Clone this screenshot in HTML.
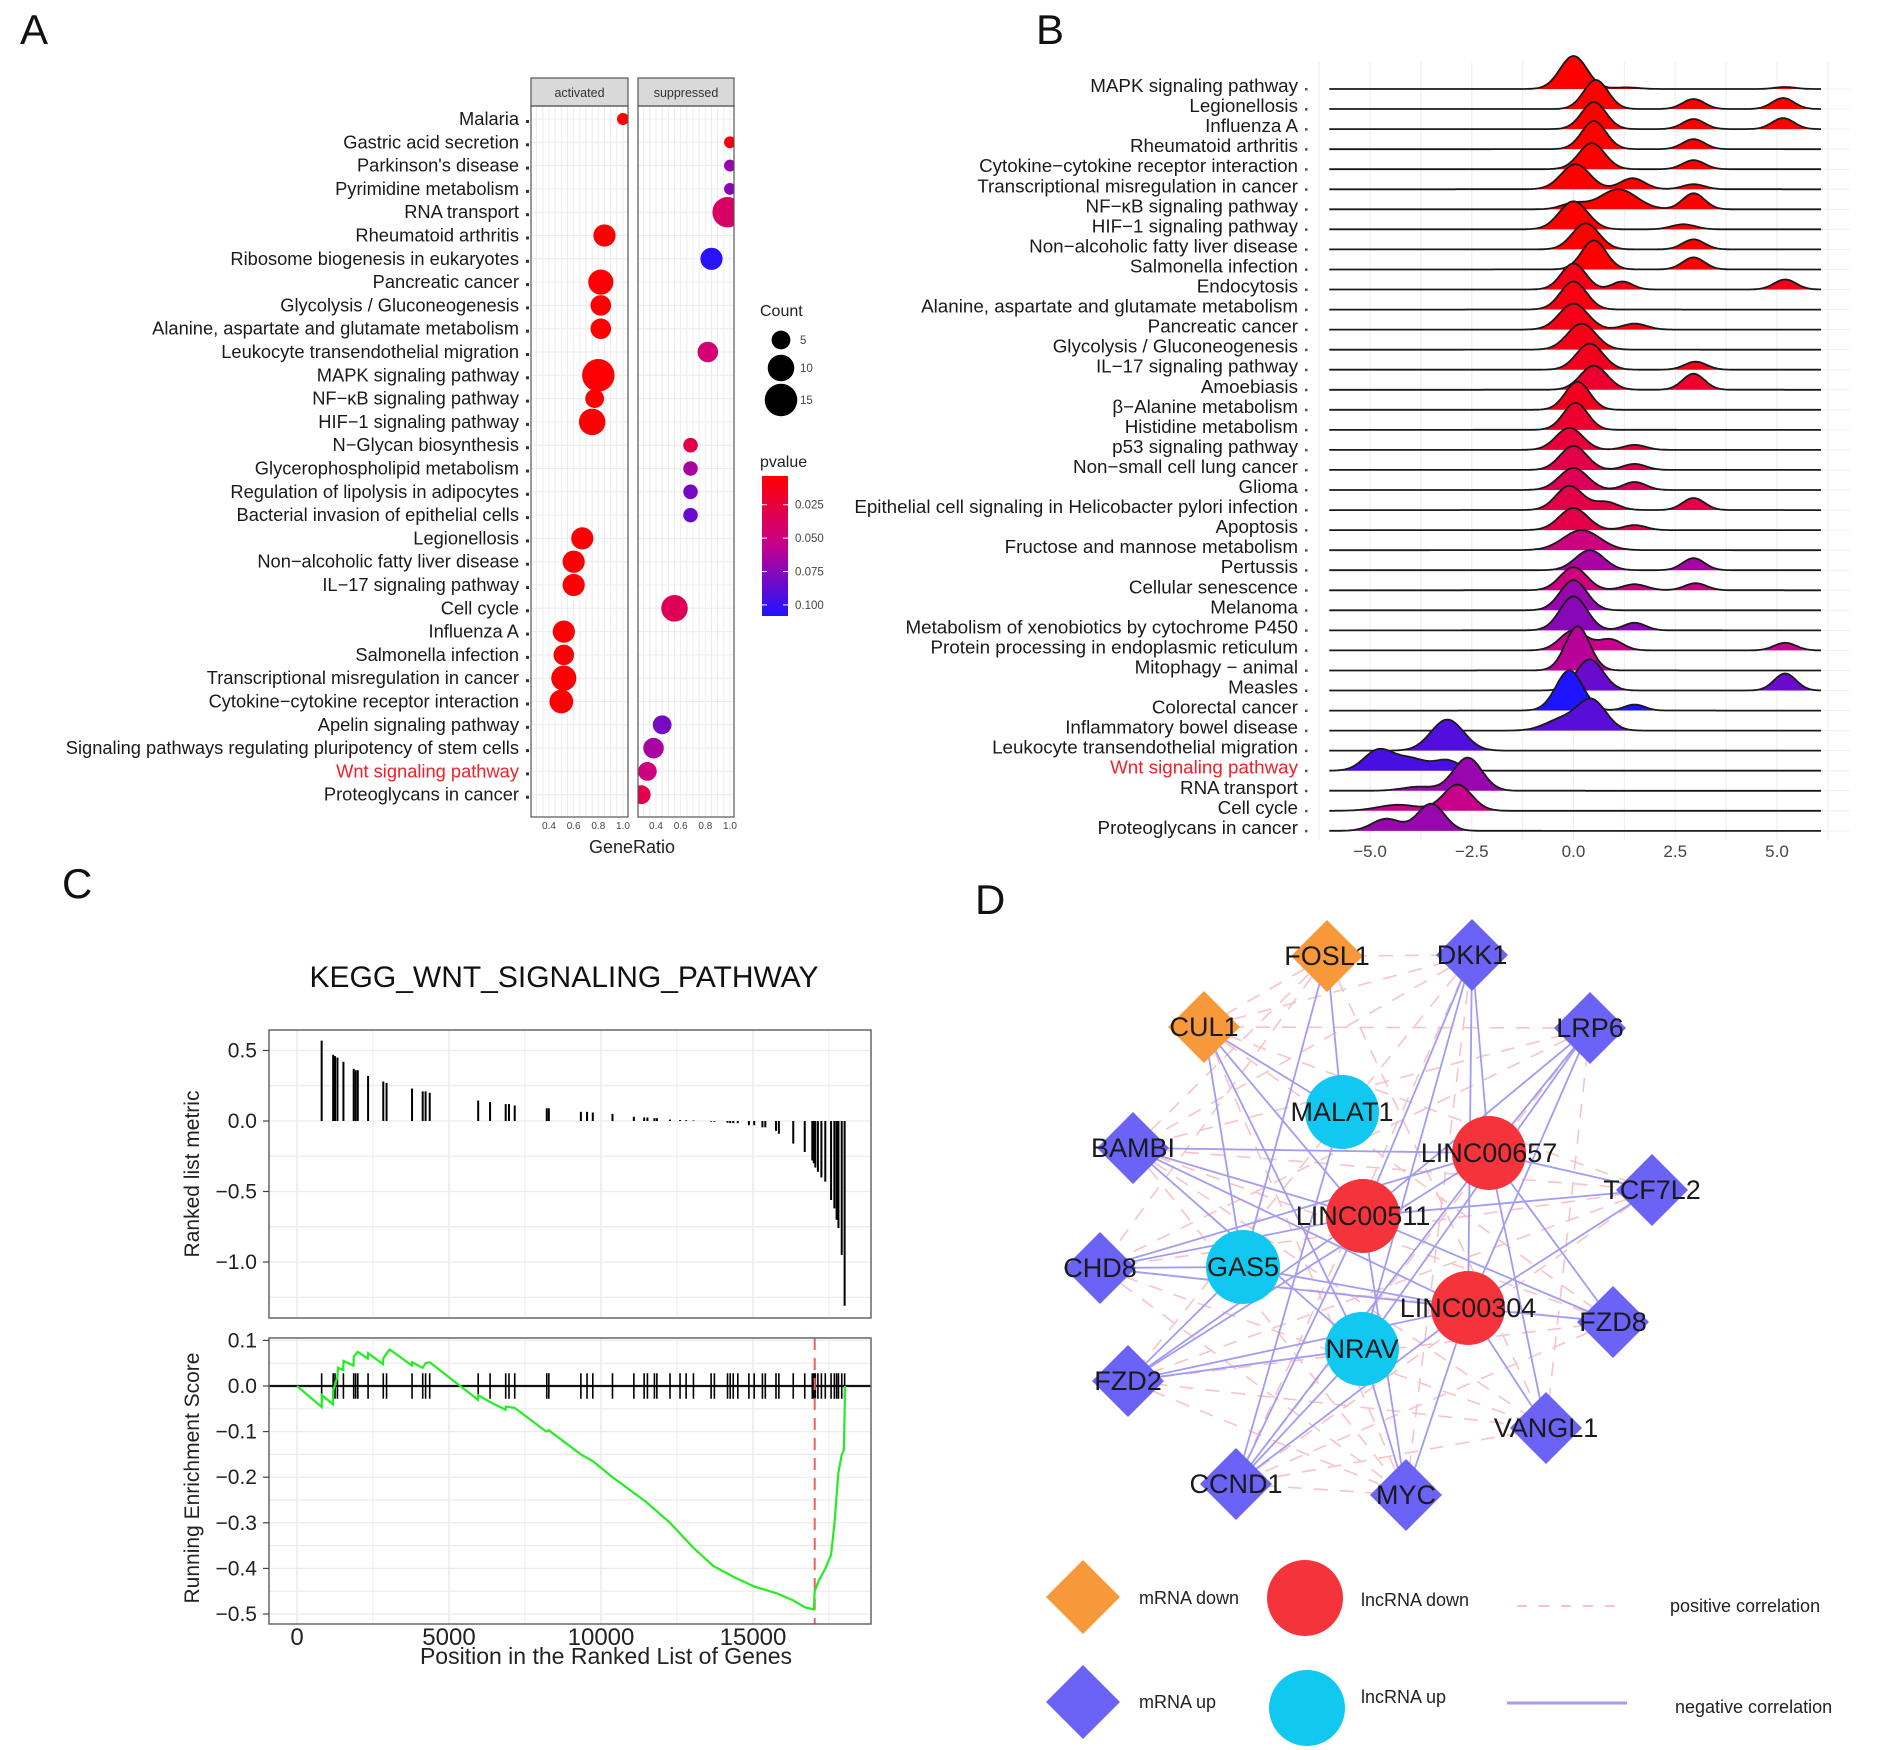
<!DOCTYPE html>
<html><head><meta charset="utf-8"><style>
html,body{margin:0;padding:0;background:#fff;}
svg{display:block;font-family:"Liberation Sans",Arial,sans-serif;}
</style></head><body>
<svg id="fig" xmlns="http://www.w3.org/2000/svg" width="1890" height="1750" viewBox="0 0 1890 1750">
<rect x="0" y="0" width="1890" height="1750" fill="#fff"/>
<text x="20" y="44" font-size="42" fill="#111">A</text>
<text x="1036" y="44" font-size="42" fill="#111">B</text>
<text x="62" y="898" font-size="42" fill="#111">C</text>
<text x="975" y="914" font-size="42" fill="#111">D</text>
<g id="pa"></g>
<g id="pb"></g>
<g id="pc"></g>
<g id="pd"></g>
</svg>
<script>
// ===== Panel A data =====
const aTerms = ["Malaria","Gastric acid secretion","Parkinson's disease","Pyrimidine metabolism","RNA transport","Rheumatoid arthritis","Ribosome biogenesis in eukaryotes","Pancreatic cancer","Glycolysis / Gluconeogenesis","Alanine, aspartate and glutamate metabolism","Leukocyte transendothelial migration","MAPK signaling pathway","NF\u2212\u03BAB signaling pathway","HIF\u22121 signaling pathway","N\u2212Glycan biosynthesis","Glycerophospholipid metabolism","Regulation of lipolysis in adipocytes","Bacterial invasion of epithelial cells","Legionellosis","Non\u2212alcoholic fatty liver disease","IL\u221217 signaling pathway","Cell cycle","Influenza A","Salmonella infection","Transcriptional misregulation in cancer","Cytokine\u2212cytokine receptor interaction","Apelin signaling pathway","Signaling pathways regulating pluripotency of stem cells","Wnt signaling pathway","Proteoglycans in cancer"];
const aGroup = ["act","sup","sup","sup","sup","act","sup","act","act","act","sup","act","act","act","sup","sup","sup","sup","act","act","act","sup","act","act","act","act","sup","sup","sup","sup"];
const aRatio = [1.0,1.0,1.0,1.0,0.98,0.85,0.85,0.82,0.82,0.82,0.82,0.80,0.77,0.75,0.68,0.68,0.68,0.68,0.67,0.60,0.60,0.55,0.52,0.52,0.52,0.50,0.45,0.38,0.33,0.28];
const aCount = [2,2,2,2,13,7,7,9,6,6,6,15,5,10,3,3,3,3,7,7,7,10,7,6,9,8,5,6,5,5];
const aPval = [0.005,0.01,0.07,0.075,0.04,0.005,0.105,0.005,0.005,0.005,0.045,0.005,0.005,0.005,0.03,0.065,0.08,0.085,0.005,0.005,0.005,0.035,0.005,0.005,0.005,0.005,0.08,0.065,0.05,0.03];
const aTicks = [0.4,0.6,0.8,1.0];
const legCounts = [5,10,15];
const legPvals = [0.025,0.050,0.075,0.100];

// ===== Panel B data =====
const bTerms = ["MAPK signaling pathway","Legionellosis","Influenza A","Rheumatoid arthritis","Cytokine\u2212cytokine receptor interaction","Transcriptional misregulation in cancer","NF\u2212\u03BAB signaling pathway","HIF\u22121 signaling pathway","Non\u2212alcoholic fatty liver disease","Salmonella infection","Endocytosis","Alanine, aspartate and glutamate metabolism","Pancreatic cancer","Glycolysis / Gluconeogenesis","IL\u221217 signaling pathway","Amoebiasis","\u03B2\u2212Alanine metabolism","Histidine metabolism","p53 signaling pathway","Non\u2212small cell lung cancer","Glioma","Epithelial cell signaling in Helicobacter pylori infection","Apoptosis","Fructose and mannose metabolism","Pertussis","Cellular senescence","Melanoma","Metabolism of xenobiotics by cytochrome P450","Protein processing in endoplasmic reticulum","Mitophagy \u2212 animal","Measles","Colorectal cancer","Inflammatory bowel disease","Leukocyte transendothelial migration","Wnt signaling pathway","RNA transport","Cell cycle","Proteoglycans in cancer"];
const bCenters = [[0,1.3,5.2],[0.55,2.95,5.15],[0.5,2.95,5.15],[0.5,2.95],[0.45,2.95],[0.05,1.45,2.95],[0,1.1,2.95],[0,2.7],[0.3,2.95],[0.5,2.95],[0,1.2,5.2],[0],[0,1.5],[0.2],[0.4,3.0],[0.5,2.95],[0.1],[0.05],[-0.1,1.5],[0,1.5],[0,1.5],[-0.1,0.8,2.95],[0,1.5],[0.2],[0.4,2.95],[0,1.5,3.0],[0],[0,1.5],[0,0.9,5.2],[0.1],[0.4,5.2],[-0.1,1.5],[0.45,-0.3],[-3.1],[-4.8,-4.0,-3.1],[-2.6,-3.8],[-2.85,-4.3],[-3.5,-4.6]];
const bHeights = [[1.65,0.08,0.1],[1.45,0.5,0.55],[1.35,0.5,0.55],[1.4,0.5],[1.3,0.45],[1.25,0.55,0.25],[0.3,1.0,0.8],[1.4,0.25],[1.3,0.5],[1.45,0.6],[1.3,0.4,0.5],[1.4],[1.3,0.3],[1.3],[1.3,0.4],[1.2,0.8],[1.4],[1.35],[1.1,0.25],[1.2,0.3],[1.1,0.4],[1.2,0.4,0.6],[1.1,0.25],[1.0],[1.0,0.6],[1.15,0.3,0.35],[1.5],[1.7,0.38],[1.0,0.55,0.38],[2.2],[1.55,0.85],[2.0,0.3],[1.5,0.55],[1.55],[1.0,0.6,0.5],[1.65,0.2],[1.3,0.3],[1.35,0.6]];
const bWidths = [[0.33,0.3,0.25],[0.3,0.27,0.27],[0.3,0.27,0.27],[0.3,0.27],[0.32,0.27],[0.35,0.3,0.27],[0.3,0.45,0.27],[0.35,0.3],[0.33,0.27],[0.3,0.27],[0.3,0.25,0.27],[0.32],[0.35,0.3],[0.35],[0.33,0.27],[0.33,0.27],[0.3],[0.3],[0.33,0.28],[0.33,0.28],[0.35,0.28],[0.33,0.3,0.27],[0.35,0.28],[0.45],[0.35,0.27],[0.33,0.3,0.27],[0.33],[0.33,0.27],[0.33,0.3,0.27],[0.3],[0.33,0.27],[0.33,0.25],[0.35,0.4],[0.4],[0.35,0.4,0.3],[0.35,0.4],[0.35,0.5],[0.33,0.35]];
const bPvals = [0.002,0.002,0.002,0.002,0.002,0.002,0.002,0.002,0.002,0.002,0.012,0.01,0.012,0.012,0.015,0.02,0.015,0.02,0.025,0.03,0.035,0.03,0.03,0.05,0.065,0.05,0.07,0.075,0.055,0.06,0.085,0.108,0.09,0.092,0.095,0.07,0.055,0.07];
const bTicks = [-5.0,-2.5,0.0,2.5,5.0];

// ===== Panel C data =====
const hitGenes = [811,1190,1250,1330,1527,1865,1930,2000,2338,2838,2946,3784,4135,4230,4365,5960,6351,6865,6973,7162,8216,8284,9338,9541,9730,10378,11081,11419,11527,11757,11838,12270,12600,12800,13041,13622,13730,14162,14250,14350,14500,14865,15040,15310,15405,15756,15851,16324,16702,16950,17000,17050,17135,17250,17378,17568,17676,17750,17811,17919,18014];
const rankMetric = [0.57,0.47,0.46,0.45,0.42,0.37,0.36,0.36,0.32,0.28,0.27,0.23,0.21,0.21,0.20,0.145,0.135,0.12,0.12,0.11,0.09,0.09,0.065,0.065,0.06,0.05,0.03,0.025,0.025,0.02,0.02,0.01,0.007,0.006,0.004,-0.005,-0.005,-0.012,-0.015,-0.015,-0.015,-0.03,-0.03,-0.045,-0.045,-0.07,-0.09,-0.16,-0.22,-0.28,-0.3,-0.33,-0.36,-0.4,-0.43,-0.56,-0.62,-0.7,-0.76,-0.95,-1.31];
const esGenes = [0,811,815,1180,1190,1330,1350,1520,1530,1860,1870,2000,2330,2340,2830,2840,2950,3050,3780,3790,4130,4230,4365,5950,5960,6350,6860,6870,7160,8200,8280,9340,9730,10380,11500,12270,13040,13700,14400,15050,15800,16320,16700,17000,17030,17140,17380,17570,17680,17810,17920,17990,18030];
const esValues = [0,-0.046,-0.02,-0.04,-0.01,0.02,0.04,0.035,0.055,0.045,0.065,0.075,0.06,0.072,0.048,0.06,0.072,0.08,0.045,0.052,0.04,0.05,0.052,-0.03,-0.02,-0.035,-0.052,-0.045,-0.048,-0.1,-0.097,-0.15,-0.165,-0.2,-0.255,-0.3,-0.355,-0.395,-0.42,-0.44,-0.455,-0.47,-0.485,-0.49,-0.45,-0.43,-0.4,-0.37,-0.3,-0.19,-0.15,-0.14,0.0];
const peakGene = 17030;
const cXTicks = [0,5000,10000,15000];
const cTopTicks = [0.5,0.0,-0.5,-1.0];
const cBotTicks = [0.1,0.0,-0.1,-0.2,-0.3,-0.4,-0.5];

// ===== Panel D data =====
const dNodes = ["FOSL1","DKK1","CUL1","LRP6","MALAT1","LINC00657","BAMBI","TCF7L2","LINC00511","CHD8","GAS5","LINC00304","FZD8","NRAV","FZD2","VANGL1","CCND1","MYC"];
const dTypes = ["mdown","mup","mdown","mup","lup","ldown","mup","mup","ldown","mup","lup","ldown","mup","lup","mup","mup","mup","mup"];
const dNeg = [["MALAT1","FOSL1"],["MALAT1","CUL1"],["MALAT1","CCND1"],["GAS5","CUL1"],["GAS5","FOSL1"],["GAS5","CHD8"],["GAS5","FZD2"],["GAS5","LINC00304"],["NRAV","CUL1"],["NRAV","BAMBI"],["NRAV","FZD2"],["NRAV","CCND1"],["NRAV","MYC"],["NRAV","DKK1"],["NRAV","LRP6"],["LINC00511","BAMBI"],["LINC00511","CHD8"],["LINC00511","FZD2"],["LINC00511","CCND1"],["LINC00511","MYC"],["LINC00511","FZD8"],["LINC00511","TCF7L2"],["LINC00511","LRP6"],["LINC00511","DKK1"],["LINC00511","CUL1"],["LINC00657","BAMBI"],["LINC00657","DKK1"],["LINC00657","LRP6"],["LINC00657","TCF7L2"],["LINC00657","CHD8"],["LINC00657","FZD2"],["LINC00657","VANGL1"],["LINC00657","FZD8"],["LINC00657","CCND1"],["LINC00304","DKK1"],["LINC00304","LRP6"],["LINC00304","TCF7L2"],["LINC00304","FZD8"],["LINC00304","VANGL1"],["LINC00304","MYC"],["LINC00304","CCND1"],["LINC00304","CHD8"],["LINC00304","BAMBI"],["LINC00304","FZD2"]];
const dPos = [["FOSL1","CUL1"],["FOSL1","DKK1"],["FOSL1","BAMBI"],["FOSL1","CHD8"],["FOSL1","VANGL1"],["DKK1","CUL1"],["DKK1","BAMBI"],["DKK1","FZD2"],["DKK1","CCND1"],["CUL1","LRP6"],["CUL1","TCF7L2"],["CUL1","FZD8"],["CUL1","MYC"],["LRP6","BAMBI"],["LRP6","CHD8"],["LRP6","CCND1"],["BAMBI","TCF7L2"],["BAMBI","FZD8"],["BAMBI","VANGL1"],["BAMBI","MYC"],["TCF7L2","CHD8"],["TCF7L2","FZD2"],["TCF7L2","CCND1"],["CHD8","FZD8"],["CHD8","VANGL1"],["CHD8","MYC"],["FZD8","FZD2"],["FZD8","CCND1"],["FZD2","VANGL1"],["FZD2","MYC"],["VANGL1","CCND1"],["CCND1","MYC"],["MYC","DKK1"],["VANGL1","LRP6"]];
const dX = [1327,1472,1204,1590,1342,1489,1133,1652,1363,1100,1243,1468,1613,1362,1128,1546,1236,1406];
const dY = [956,955,1027,1028,1112,1153,1148,1190,1216,1268,1267,1308,1322,1349,1381,1428,1484,1495];

// ===== helpers =====
const NS = "http://www.w3.org/2000/svg";
function mk(tag, attrs, parent){
  const e = document.createElementNS(NS, tag);
  for (const k in attrs) e.setAttribute(k, attrs[k]);
  parent.appendChild(e);
  return e;
}
function lerp(a,b,t){return a+(b-a)*t;}
function pColor(p){
  const lo=0.0035, mid=0.055, hi=0.108;
  const c0=[255,0,0], c1=[200,0,140], c2=[30,20,255];
  let t, a, b;
  if (p<=mid){ t=Math.max(0,(p-lo)/(mid-lo)); a=c0; b=c1; }
  else { t=Math.min(1,(p-mid)/(hi-mid)); a=c1; b=c2; }
  return "rgb("+Math.round(lerp(a[0],b[0],t))+","+Math.round(lerp(a[1],b[1],t))+","+Math.round(lerp(a[2],b[2],t))+")";
}
const pa = document.getElementById("pa");
const pb = document.getElementById("pb");
const pc = document.getElementById("pc");
const pd = document.getElementById("pd");

// ===== Panel A =====
(function(){
  const rowY0 = 119, rowStep = 23.3, top = 106, bottom = 817;
  const panels = {act:{left:531,right:628,label:"activated"}, sup:{left:638,right:734,label:"suppressed"}};
  const xA = (v, g) => panels[g].left + 18 + (v-0.4)*123.3;
  const yA = i => rowY0 + i*rowStep;
  const rA = c => 4.2*Math.sqrt(c);
  const defs = mk("defs",{},pa);
  for (const g of ["act","sup"]) {
    const P = panels[g];
    const cp = mk("clipPath",{id:"clip-"+g},defs);
    mk("rect",{x:P.left,y:top,width:P.right-P.left,height:bottom-top},cp);
    const bg = mk("rect",{x:P.left,y:top,width:P.right-P.left,height:bottom-top,fill:"#fff"},pa);
    
    
    for (let v=0.25; v<=1.05; v+=0.05) {
      const gx = xA(v,g);
      if (gx<P.left || gx>P.right) continue;
      const ln = mk("line",{x1:gx,x2:gx,y1:top,y2:bottom,stroke:"#ececec","stroke-width":1},pa);
      
      
    }
    for (let i=0;i<aTerms.length;i++){
      const ln = mk("line",{x1:P.left,x2:P.right,y1:yA(i),y2:yA(i),stroke:"#ececec","stroke-width":1},pa);
      
      
    }
    const strip = mk("rect",{x:P.left,y:78,width:P.right-P.left,height:28,fill:"#d9d9d9",stroke:"#555","stroke-width":1.2},pa);
    
    
    const st = mk("text",{x:(P.left+P.right)/2,y:97,"text-anchor":"middle","font-size":12.5,fill:"#333"},pa);
    st.textContent = P.label;
    
    
    const dg = mk("g",{"clip-path":"url(#clip-"+g+")"},pa);
    
    
    for (let i=0;i<aTerms.length;i++){
      if (aGroup[i]!==g) continue;
      const c = mk("circle",{cx:xA(aRatio[i],g),cy:yA(i),r:rA(aCount[i]),fill:pColor(aPval[i])},dg);
      
      
    }
    const bd = mk("rect",{x:P.left,y:top,width:P.right-P.left,height:bottom-top,fill:"none",stroke:"#555","stroke-width":1.2},pa);
    
    
    for (const t of aTicks){
      const tx = mk("text",{x:xA(t,g),y:829,"text-anchor":"middle","font-size":10,fill:"#444"},pa);
      tx.textContent = t.toFixed(1);
      
      
    }
  }
  for (let i=0;i<aTerms.length;i++){
    const t = mk("text",{x:519,y:yA(i)+6,"text-anchor":"end","font-size":18.3,fill:(aTerms[i]==="Wnt signaling pathway"?"#f0202a":"#1a1a1a")},pa);
    t.textContent = aTerms[i];
    
    
    const tk = mk("rect",{x:526,y:yA(i)+1,width:3,height:3,fill:"#333"},pa);
    
    
  }
  const xt = mk("text",{x:632,y:853,"text-anchor":"middle","font-size":18,fill:"#222"},pa);
  xt.textContent = "GeneRatio";
  
  
  const ct = mk("text",{x:760,y:316,"font-size":16,fill:"#222"},pa);
  ct.textContent = "Count";
  
  
  const ly = [340,368,400];
  legCounts.forEach((c,i)=>{
    const cc = mk("circle",{cx:781,cy:ly[i],r:rA(c),fill:"#000"},pa);
    
    
    const tt = mk("text",{x:800,y:ly[i]+4,"font-size":11.5,fill:"#444"},pa);
    tt.textContent = String(c);
    
    
  });
  const pt = mk("text",{x:760,y:467,"font-size":16,fill:"#222"},pa);
  pt.textContent = "pvalue";
  
  
  const barTop=476, barBot=616, pTop=0.0035, pBot=0.1083;
  const gd = mk("linearGradient",{id:"pgrad",x1:0,y1:0,x2:0,y2:1},defs);
  for (let k=0;k<=10;k++){
    const p = pTop + (pBot-pTop)*k/10;
    mk("stop",{offset:(k*10)+"%","stop-color":pColor(p)},gd);
  }
  const cb = mk("rect",{x:762,y:barTop,width:26,height:barBot-barTop,fill:"url(#pgrad)"},pa);
  
  
  legPvals.forEach(p=>{
    const yy = barTop + (p-pTop)/(pBot-pTop)*(barBot-barTop);
    const tl = mk("line",{x1:762,x2:767,y1:yy,y2:yy,stroke:"#fff","stroke-width":1},pa);
    
    
    const tr = mk("line",{x1:783,x2:788,y1:yy,y2:yy,stroke:"#fff","stroke-width":1},pa);
    
    
    const tt = mk("text",{x:795,y:yy+4,"font-size":11.5,fill:"#444"},pa);
    tt.textContent = p.toFixed(3);
    
    
  });
})();

// ===== Panel B =====
(function(){
  const x0 = 1573.5, ux = 40.7, row0 = 89, step = 20.05, unitH = 20.05;
  const xB = v => x0 + v*ux;
  const yB = i => row0 + i*step;
  const gtop = 62, gbot = 840;
  for (let v=-6.25; v<=6.3; v+=1.25){
    const gx = xB(v);
    const ln = mk("line",{x1:gx,x2:gx,y1:gtop,y2:gbot,stroke:"#efefef","stroke-width":1.2},pb);
    
    
  }
  for (let i=0;i<bTerms.length;i++){
    const ln = mk("line",{x1:1328,x2:1850,y1:yB(i),y2:yB(i),stroke:"#efefef","stroke-width":1},pb);
    
    
  }
  const xmin=-6.0, xmax=6.1;
  for (let i=0;i<bTerms.length;i++){
    const base = yB(i);
    let pts = [];
    for (let v=xmin; v<=xmax+1e-9; v+=0.04){
      let d=0;
      for (let k=0;k<bCenters[i].length;k++){
        const z=(v-bCenters[i][k])/bWidths[i][k];
        d += bHeights[i][k]*Math.exp(-0.5*z*z);
      }
      pts.push([xB(v), base - d*unitH]);
    }
    const line = pts.map((p,j)=>(j?"L":"M")+p[0].toFixed(1)+","+p[1].toFixed(1)).join("");
    const fill = mk("path",{d:line+"L"+xB(xmax).toFixed(1)+","+base+"L"+xB(xmin).toFixed(1)+","+base+"Z",fill:pColor(bPvals[i]),stroke:"none"},pb);
    
    
    const st = mk("path",{d:line,fill:"none",stroke:"#1a1a1a","stroke-width":1.8},pb);
    
    
  }
  for (let i=0;i<bTerms.length;i++){
    const t = mk("text",{x:1298,y:yB(i)+3,"text-anchor":"end","font-size":18.8,fill:(bTerms[i]==="Wnt signaling pathway"?"#f0202a":"#1a1a1a")},pb);
    t.textContent = bTerms[i];
    
    
    const tk = mk("rect",{x:1305,y:yB(i)-1,width:2.5,height:2.5,fill:"#555"},pb);
    
    
  }
  bTicks.forEach(t=>{
    const tx = mk("text",{x:xB(t),y:857,"text-anchor":"middle","font-size":17,fill:"#444"},pb);
    tx.textContent = (t<0?"\u2212":"")+Math.abs(t).toFixed(1);
    
    
  });
})();

// ===== Panel C =====
(function(){
  const L=269, R=871;
  const xC = g => 297 + g*152/5000;
  const tTop=1030, tBot=1318, tZero=1121, tUnit=141;
  const bTop=1338, bBot=1624, bZero=1386, bUnit=456;
  const yT = v => tZero - v*tUnit;
  const yE = v => bZero - v*bUnit;
  const title = mk("text",{x:564,y:987,"text-anchor":"middle","font-size":30,fill:"#111"},pc);
  title.textContent = "KEGG_WNT_SIGNALING_PATHWAY";
  
  
  for (let g=-2500; g<=20000; g+=2500){
    const gx = xC(g); if (gx<L||gx>R) continue;
    for (const [a,b] of [[tTop,tBot],[bTop,bBot]]){
      const ln = mk("line",{x1:gx,x2:gx,y1:a,y2:b,stroke:(g%5000===0?"#e6e6e6":"#f1f1f1"),"stroke-width":1.2},pc);
      
      
    }
  }
  for (let v=-1.5; v<=0.75; v+=0.25){
    const gy = yT(v); if (gy<tTop||gy>tBot) continue;
    const ln = mk("line",{x1:L,x2:R,y1:gy,y2:gy,stroke:"#ececec","stroke-width":1.2},pc);
    
    
  }
  for (let v=-0.55; v<=0.12; v+=0.05){
    const gy = yE(v); if (gy<bTop||gy>bBot) continue;
    const ln = mk("line",{x1:L,x2:R,y1:gy,y2:gy,stroke:"#ececec","stroke-width":1.2},pc);
    
    
  }
  for (let i=0;i<hitGenes.length;i++){
    const b = mk("line",{x1:xC(hitGenes[i]),x2:xC(hitGenes[i]),y1:yT(0),y2:yT(rankMetric[i]),stroke:"#000","stroke-width":2},pc);
    
    
  }
  const tb = mk("rect",{x:L,y:tTop,width:R-L,height:tBot-tTop,fill:"none",stroke:"#666","stroke-width":1.5},pc);
  
  
  const zl = mk("line",{x1:L,x2:R,y1:yE(0),y2:yE(0),stroke:"#111","stroke-width":2.2},pc);
  
  
  for (let i=0;i<hitGenes.length;i++){
    const h = mk("line",{x1:xC(hitGenes[i]),x2:xC(hitGenes[i]),y1:yE(0.028),y2:yE(-0.028),stroke:"#000","stroke-width":1.6},pc);
    
    
  }
  const pk = mk("line",{x1:xC(peakGene),x2:xC(peakGene),y1:bTop,y2:bBot,stroke:"#f06060","stroke-width":2,"stroke-dasharray":"12,8"},pc);
  
  
  const es = mk("path",{d:esGenes.map((g,i)=>(i?"L":"M")+xC(g).toFixed(1)+","+yE(esValues[i]).toFixed(1)).join(""),fill:"none",stroke:"#22ee22","stroke-width":2.2},pc);
  
  
  const bb = mk("rect",{x:L,y:bTop,width:R-L,height:bBot-bTop,fill:"none",stroke:"#666","stroke-width":1.5},pc);
  
  
  cTopTicks.forEach(v=>{
    const t = mk("text",{x:257,y:yT(v)+7,"text-anchor":"end","font-size":21,fill:"#222"},pc);
    t.textContent = (v<0?"\u2212":"")+Math.abs(v).toFixed(1);
    
    
    const tk = mk("line",{x1:263,x2:269,y1:yT(v),y2:yT(v),stroke:"#444","stroke-width":1.2},pc);
    
    
  });
  cBotTicks.forEach(v=>{
    const t = mk("text",{x:257,y:yE(v)+7,"text-anchor":"end","font-size":21,fill:"#222"},pc);
    t.textContent = (v<0?"\u2212":"")+Math.abs(v).toFixed(1);
    
    
    const tk = mk("line",{x1:263,x2:269,y1:yE(v),y2:yE(v),stroke:"#444","stroke-width":1.2},pc);
    
    
  });
  cXTicks.forEach(g=>{
    const t = mk("text",{x:xC(g),y:1645,"text-anchor":"middle","font-size":24,fill:"#222"},pc);
    t.textContent = String(g);
    
    
  });
  const xl = mk("text",{x:606,y:1664,"text-anchor":"middle","font-size":23,fill:"#222"},pc);
  xl.textContent = "Position in the Ranked List of Genes";
  
  
  const y1 = mk("text",{x:0,y:0,"text-anchor":"middle","font-size":21,fill:"#222",transform:"translate(199,1174) rotate(-90)"},pc);
  y1.textContent = "Ranked list metric";
  
  
  const y2 = mk("text",{x:0,y:0,"text-anchor":"middle","font-size":21,fill:"#222",transform:"translate(199,1478) rotate(-90)"},pc);
  y2.textContent = "Running Enrichment Score";
  
  
})();

// ===== Panel D =====
(function(){
  const idx = n => dNodes.indexOf(n);
  const colors = {mdown:"#f7993a", mup:"#6a63f5", ldown:"#f5333a", lup:"#11c8f0"};
  dPos.forEach(e=>{
    const a=idx(e[0]), b=idx(e[1]);
    const l = mk("line",{x1:dX[a],y1:dY[a],x2:dX[b],y2:dY[b],stroke:"#f7c3c8","stroke-width":1.6,"stroke-dasharray":"14,12"},pd);
    
    
  });
  dNeg.forEach(e=>{
    const a=idx(e[0]), b=idx(e[1]);
    const l = mk("line",{x1:dX[a],y1:dY[a],x2:dX[b],y2:dY[b],stroke:"#a29cf2","stroke-width":1.8},pd);
    
    
  });
  for (let i=0;i<dNodes.length;i++){
    const t = dTypes[i], x=dX[i], y=dY[i];
    let s;
    if (t[0]==="m") {
      const h=36;
      s = mk("polygon",{points:`${x},${y-h} ${x+h},${y} ${x},${y+h} ${x-h},${y}`,fill:colors[t]},pd);
    } else {
      s = mk("circle",{cx:x,cy:y,r:37,fill:colors[t]},pd);
    }
    
    
  }
  for (let i=0;i<dNodes.length;i++){
    const lb = mk("text",{x:dX[i],y:dY[i]+9,"text-anchor":"middle","font-size":27,fill:"#1a1a1a"},pd);
    lb.textContent = dNodes[i];
    
    
  }
  const lg = mk("g",{},pd);
  
  
  const d1 = mk("polygon",{points:"1083,1560 1120,1597 1083,1634 1046,1597",fill:colors.mdown},lg);
  
  
  const c1 = mk("ellipse",{cx:1305,cy:1598,rx:38,ry:38,fill:colors.ldown},lg);
  
  
  const l1 = mk("line",{x1:1517,x2:1627,y1:1606,y2:1606,stroke:"#f7c3c8","stroke-width":2,"stroke-dasharray":"10,12"},lg);
  
  
  const d2 = mk("polygon",{points:"1083,1665 1120,1702 1083,1739 1046,1702",fill:colors.mup},lg);
  
  
  const c2 = mk("ellipse",{cx:1307,cy:1708,rx:38,ry:38,fill:colors.lup},lg);
  
  
  const l2 = mk("line",{x1:1507,x2:1627,y1:1703,y2:1703,stroke:"#a29cf2","stroke-width":3},lg);
  
  
  const labs = [["mRNA down",1139,1604],["lncRNA down",1361,1606],["positive correlation",1670,1612],["mRNA up",1139,1708],["lncRNA up",1361,1703],["negative correlation",1675,1713]];
  labs.forEach(l=>{
    const t = mk("text",{x:l[1],y:l[2],"font-size":18,fill:"#222"},lg);
    t.textContent = l[0];
    
    
  });
})();
</script>
</body></html>
